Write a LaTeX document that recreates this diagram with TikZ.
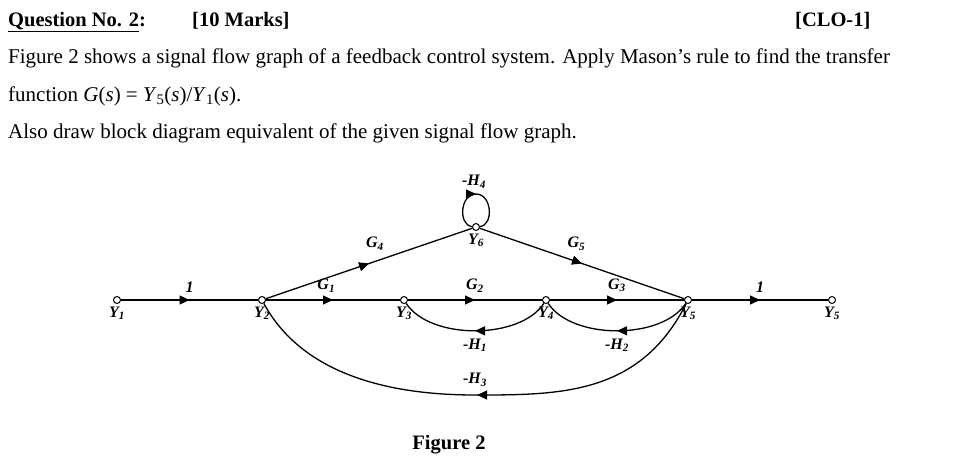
\documentclass[tikz,border=0pt]{standalone}
\usepackage{fontspec}
\setmainfont{Liberation Serif}
\usetikzlibrary{decorations.markings,arrows.meta}
\newcommand{\lbl}[3]{#1\textit{#2}\textsubscript{\textit{#3}}}
\begin{document}
\begin{tikzpicture}[x=1pt,y=-1pt,
  nd/.style={circle,draw,fill=white,inner sep=0pt,minimum size=7pt,line width=1pt},
  br/.style={line width=1.3pt,postaction={decorate},decoration={markings,mark=at position #1 with {\arrow{Triangle[length=10pt,width=9pt]}}}},
  br/.default=0.5,
  lb/.style={font=\fontsize{16}{16}\selectfont\bfseries\itshape},
  tx/.style={anchor=base west,inner sep=0pt,font=\fontsize{21}{21}\selectfont}]
\useasboundingbox (0,0) rectangle (955,461);
\node[tx,font=\fontsize{20.5}{20.5}\selectfont\bfseries] (q) at (8,26) {\underline{Question No. 2}:};
\node[tx,font=\fontsize{20.5}{20.5}\selectfont\bfseries] (m) at (192,26) {[10 Marks]};
\node[tx,font=\fontsize{20.5}{20.5}\selectfont\bfseries] (c) at (795,26) {[CLO-1]};
\node[tx] (l1) at (8,63) {Figure 2 shows a signal flow graph of a feedback control system. Apply Mason’s rule to find the transfer};
\node[tx] (l2) at (8,101) {function \textit{G}(\textit{s}) = \textit{Y}\textsubscript{5}(\textit{s})/\textit{Y}\textsubscript{1}(\textit{s}).};
\node[tx] (l3) at (8,138) {Also draw block diagram equivalent of the given signal flow graph.};
\node[tx,anchor=base,font=\fontsize{20.5}{20.5}\selectfont\bfseries] (f) at (449,449) {Figure 2};

\node[nd] (y1) at (117,300) {};
\node[nd] (y2) at (262,300) {};
\node[nd] (y3) at (404,300) {};
\node[nd] (y4) at (546,300) {};
\node[nd] (y5) at (688,300) {};
\node[nd] (y7) at (832,300) {};
\node[nd] (y6) at (476,227) {};

\draw[br] (y1) -- node[lb,above=4pt]{1} (y2);
\draw[br] (y2) -- node[lb,above=4pt,pos=0.45]{\lbl{}{G}{1}} (y3);
\draw[br] (y3) -- node[lb,above=4pt]{\lbl{}{G}{2}} (y4);
\draw[br] (y4) -- node[lb,above=4pt]{\lbl{}{G}{3}} (y5);
\draw[br] (y5) -- node[lb,above=4pt]{1} (y7);
\draw[br] (y2) -- node[lb,above left=2pt,pos=0.6]{\lbl{}{G}{4}} (y6);
\draw[br] (y6) -- node[lb,above right=2pt,pos=0.4]{\lbl{}{G}{5}} (y5);
\draw[br] (y4) .. controls (520,340) and (430,340) .. node[lb,below=4pt]{\lbl{-}{H}{1}} (y3);
\draw[br] (y5) .. controls (662,340) and (572,340) .. node[lb,below=4pt]{\lbl{-}{H}{2}} (y4);
\draw[br] (y5) .. controls (640,395) and (560,395) .. (475,395)
  .. controls (380,395) and (300,370) .. (y2);
\node[lb] (h3) at (475,380) {\lbl{-}{H}{3}};
\draw[br=0.5] (y6) .. controls (458,225) and (460,194) .. (476,194) .. controls (492,194) and (494,225) .. (y6);
\node[lb] (h4) at (474,182) {\lbl{-}{H}{4}};
\node[lb,below=3pt] at (y1) {\lbl{}{Y}{1}};
\node[lb,below=3pt] at (y2) {\lbl{}{Y}{2}};
\node[lb,below=3pt] at (y3) {\lbl{}{Y}{3}};
\node[lb,below=3pt] at (y4) {\lbl{}{Y}{4}};
\node[lb,below=3pt] at (y5) {\lbl{}{Y}{5}};
\node[lb,below=3pt] at (y7) {\lbl{}{Y}{5}};
\node[lb,below=3pt] at (y6) {\lbl{}{Y}{6}};
\end{tikzpicture}
\end{document}
